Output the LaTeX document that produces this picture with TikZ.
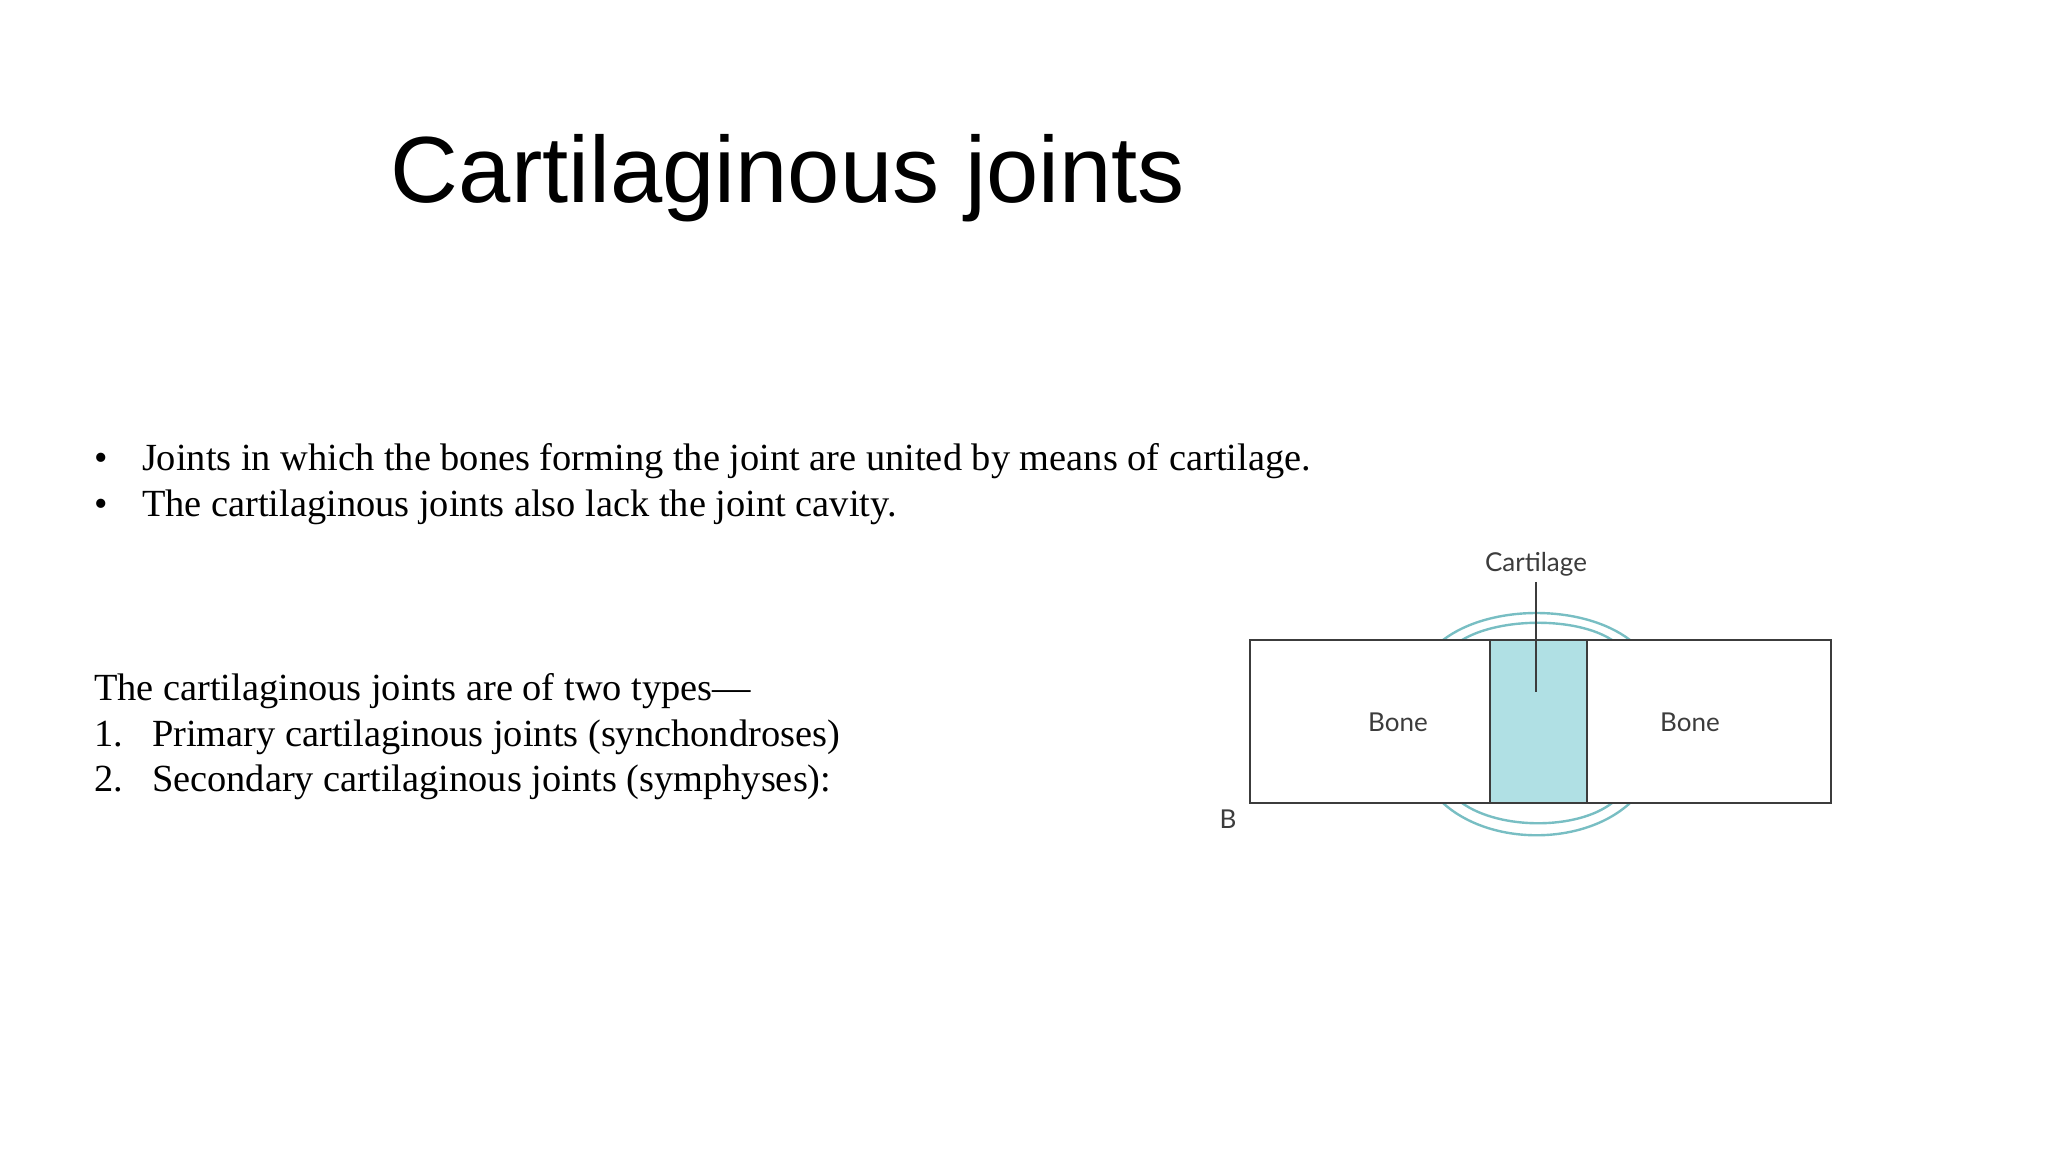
\documentclass[tikz,border=0pt]{standalone}
\usepackage{fontspec}
\setmainfont{Liberation Serif}
\newfontfamily\headfont{Liberation Sans}
\newfontfamily\labelfont{Lato}
\definecolor{cteal}{RGB}{176,224,228}
\definecolor{cedge}{RGB}{60,60,60}
\definecolor{carc}{RGB}{120,190,195}

\begin{document}
\begin{tikzpicture}[x=0.5pt, y=0.5pt, yscale=-1, inner sep=0pt, outer sep=0pt,
  bodytext/.style={anchor=base west, font=\fontsize{19.2}{22}\selectfont},
  partlabel/.style={font=\labelfont\fontsize{13}{15}\selectfont, text=cedge}]
\useasboundingbox (0,0) rectangle (2048,1152);
  % title
  \node[anchor=base, font=\headfont\fontsize{47}{54}\selectfont] (title)
    at (788,202) {Cartilaginous joints};
  % bullet list
  \node[bodytext] (bul1) at (94,470) {\textbullet};
  \node[bodytext] (txt1) at (142,470)
    {Joints in which the bones forming the joint are united by means of cartilage.};
  \node[bodytext] (bul2) at (94,516) {\textbullet};
  \node[bodytext] (txt2) at (142,516)
    {The cartilaginous joints also lack the joint cavity.};
  % numbered list
  \node[bodytext] (types) at (94,700) {The cartilaginous joints are of two types---};
  \node[bodytext] (num1) at (94,746) {1.};
  \node[bodytext] (type1) at (152,746) {Primary cartilaginous joints (synchondroses)};
  \node[bodytext] (num2) at (94,791) {2.};
  \node[bodytext] (type2) at (152,791) {Secondary cartilaginous joints (symphyses):};
  % joint sketch
  \path[draw=carc, line width=1.2pt] (1443,640) .. controls (1490,604) and
    (1583,604) .. (1630,640);
  \path[draw=carc, line width=1.2pt] (1462,640) .. controls (1500,617) and
    (1577,617) .. (1612,640);
  \path[draw=carc, line width=1.2pt] (1443,803) .. controls (1490,846) and
    (1583,846) .. (1630,803);
  \path[draw=carc, line width=1.2pt] (1462,803) .. controls (1500,830) and
    (1577,830) .. (1612,803);
  \path[draw=cedge, line width=0.9pt] (1250,640) rectangle (1831,803);
  \path[fill=cteal, draw=cedge, line width=1.3pt] (1490,640) rectangle (1587,803);
  \node[partlabel, anchor=center] (bone1) at (1398,722) {Bone};
  \node[partlabel, anchor=center] (bone2) at (1690,722) {Bone};
  \node[partlabel, anchor=center] (cart) at (1536,564) {Cartilage};
  \node[partlabel, anchor=center] (fig) at (1228,819) {B};
  \coordinate (cartend) at (1536,692);
  \draw[cedge, line width=0.8pt] (cart.south) ++(0,6) -- (cartend);
\end{tikzpicture}
\end{document}
